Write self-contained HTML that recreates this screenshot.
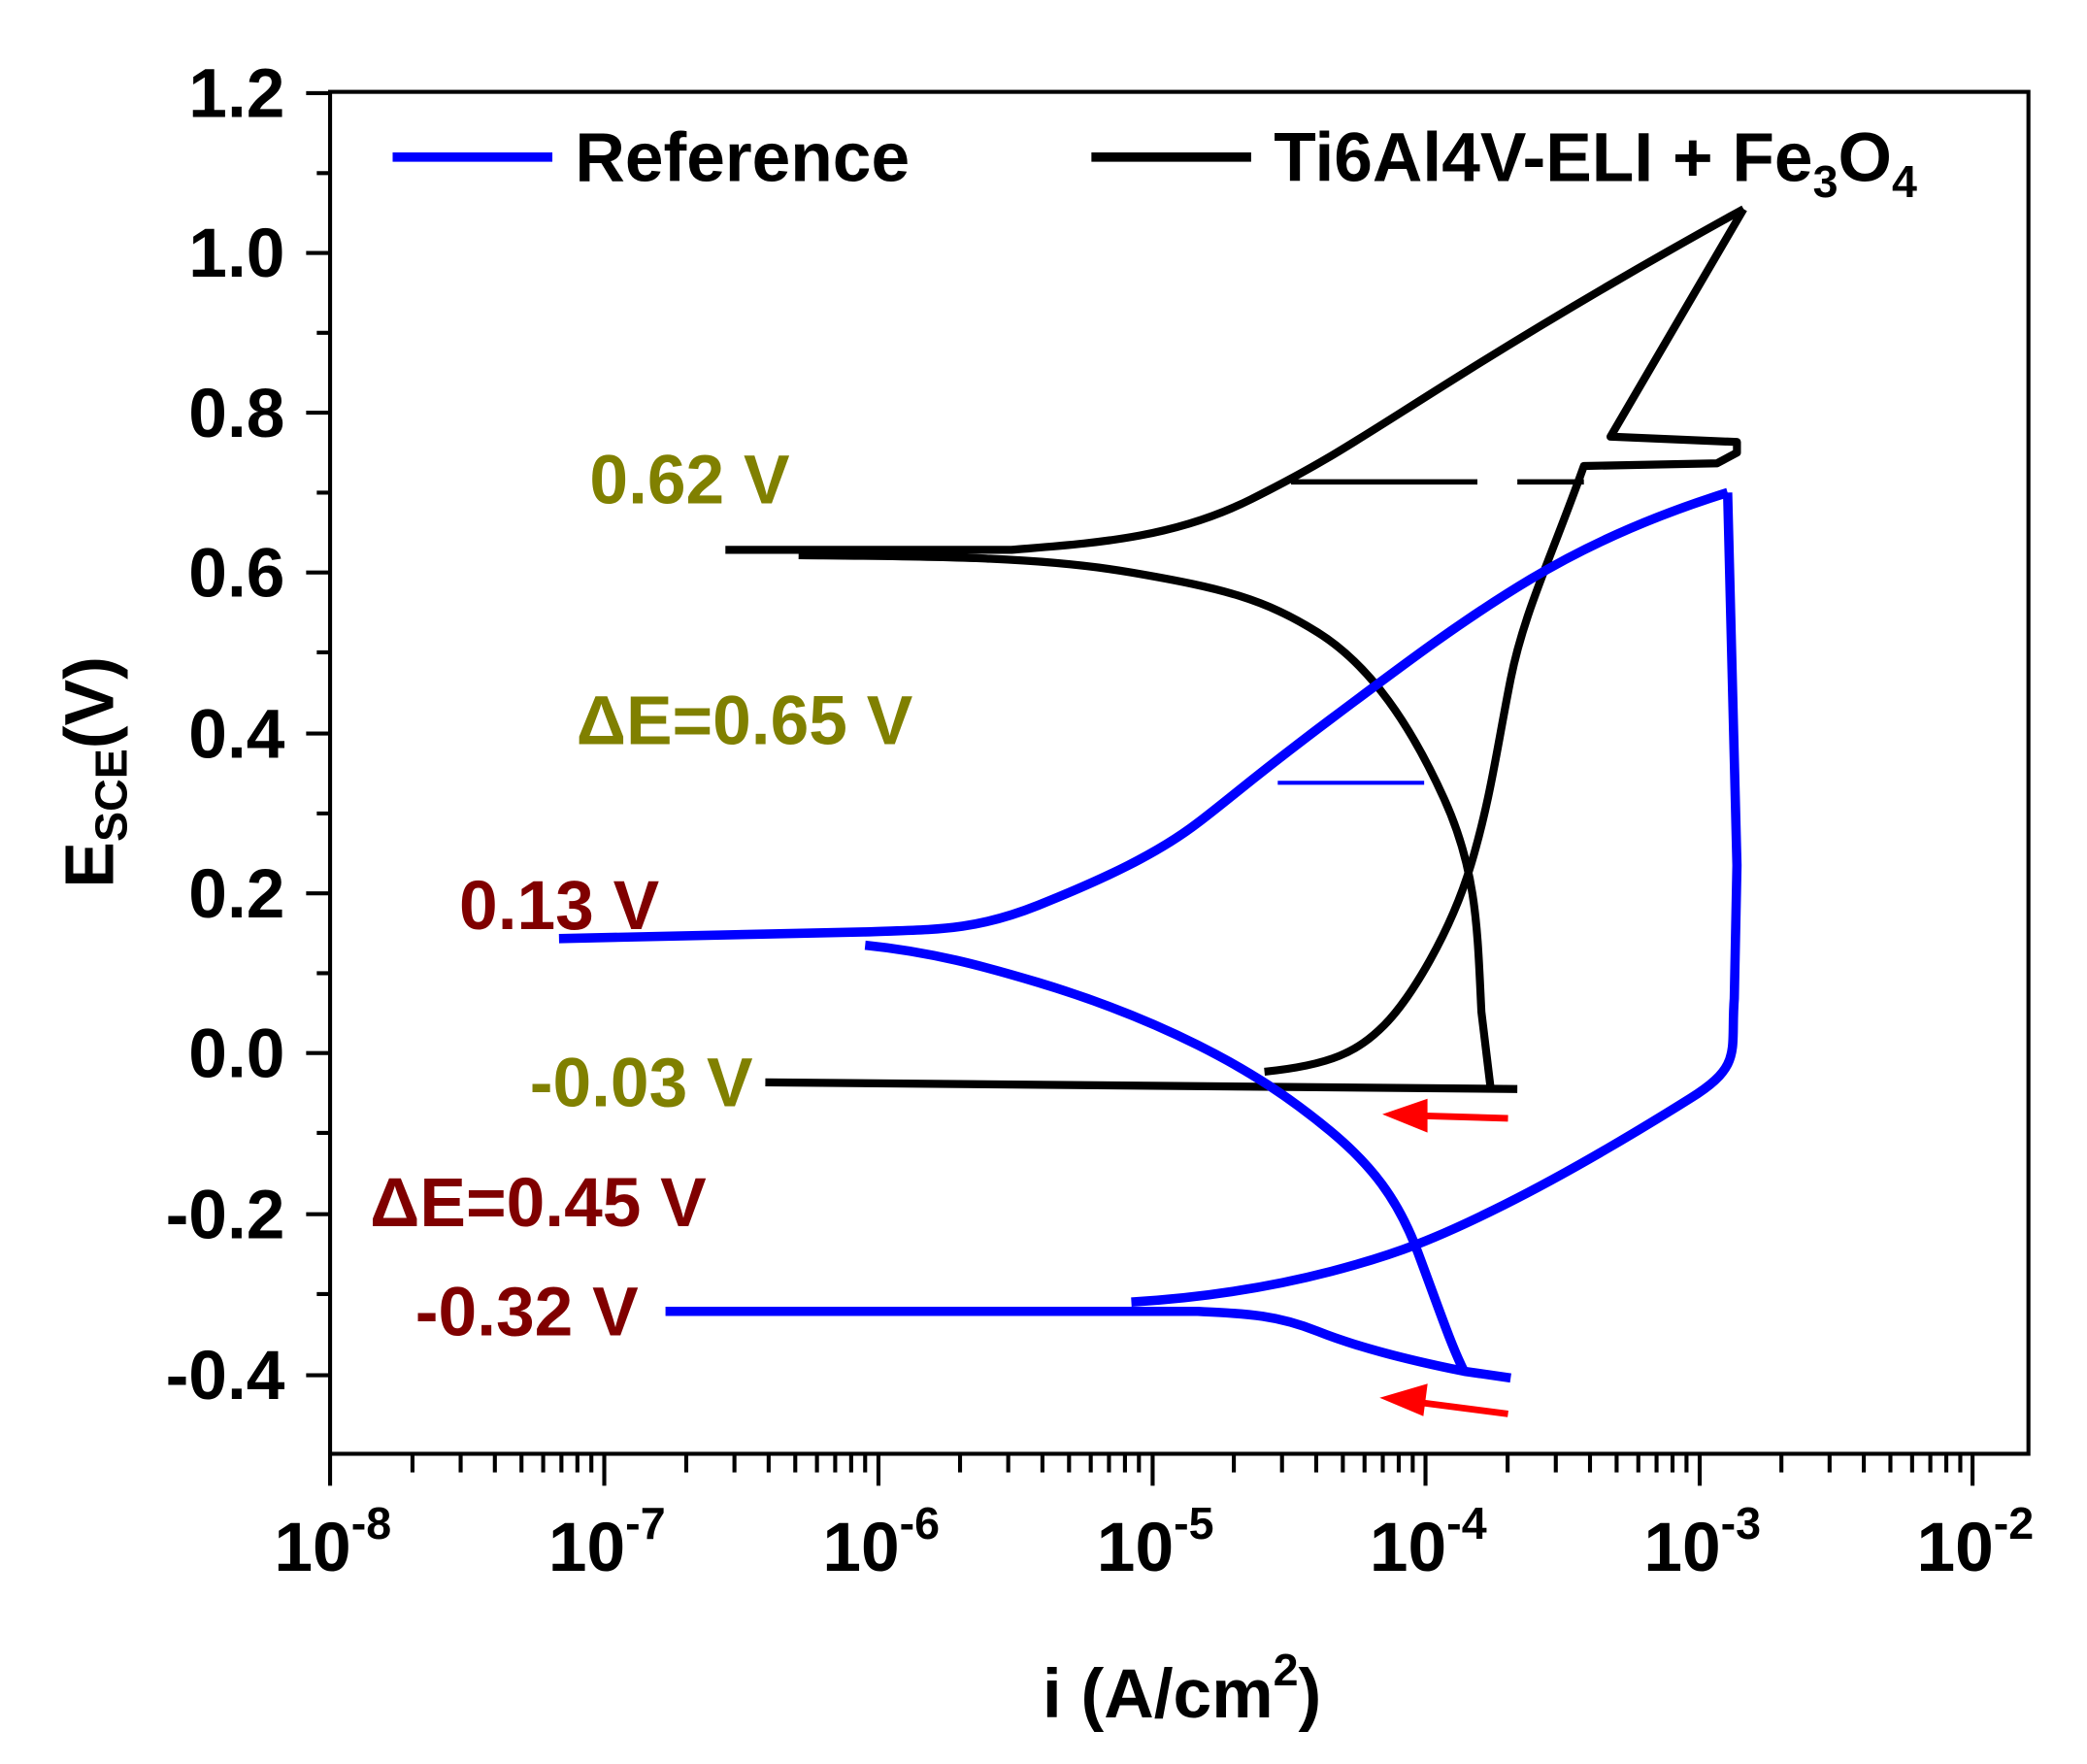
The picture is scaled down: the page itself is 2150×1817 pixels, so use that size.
<!DOCTYPE html>
<html><head><meta charset="utf-8"><style>html,body{margin:0;padding:0;background:#fff}svg{display:block}</style></head><body>
<svg width="2150" height="1817" viewBox="0 0 1568 1325" preserveAspectRatio="none" xmlns="http://www.w3.org/2000/svg" font-family="Liberation Sans, Arial, sans-serif" font-weight="bold">
<rect width="1568" height="1325" fill="#fff"/>
<g stroke="#000" stroke-width="3" fill="none">
<rect x="248" y="69" width="1276" height="1023"/>
<path d="M230 70H248M230 190H248M230 310H248M230 430H248M230 551H248M230 671H248M230 791H248M230 912H248M230 1033H248"/>
<path d="M238 130H248M238 250H248M238 370H248M238 490H248M238 611H248M238 731H248M238 851H248M238 972H248"/>
<path d="M248 1092V1116M454 1092V1116M660 1092V1116M866 1092V1116M1071 1092V1116M1277 1092V1116M1482 1092V1116"/>
</g>
<g stroke="#000" stroke-width="3" id="minor"></g>
<script>
var g=document.getElementById('minor'),s='';
for(var d=0;d<6;d++){var x0=248+d*205.7;for(var k=2;k<10;k++){var x=x0+Math.log10(k)*205.7;s+='M'+x.toFixed(1)+' 1092V1106';}}
var p=document.createElementNS('http://www.w3.org/2000/svg','path');p.setAttribute('d',s);p.setAttribute('fill','none');g.appendChild(p);
</script>
<g font-size="52" text-anchor="end" fill="#000">
<text x="214" y="88">1.2</text><text x="214" y="208">1.0</text><text x="214" y="328">0.8</text><text x="214" y="448">0.6</text><text x="214" y="569">0.4</text><text x="214" y="689">0.2</text><text x="214" y="809">0.0</text><text x="214" y="930">-0.2</text><text x="214" y="1051">-0.4</text>
</g>
<g font-size="52" fill="#000" text-anchor="middle">
<text x="250" y="1180">10<tspan font-size="34" dy="-24">-8</tspan></text>
<text x="456" y="1180">10<tspan font-size="34" dy="-24">-7</tspan></text>
<text x="662" y="1180">10<tspan font-size="34" dy="-24">-6</tspan></text>
<text x="868" y="1180">10<tspan font-size="34" dy="-24">-5</tspan></text>
<text x="1073" y="1180">10<tspan font-size="34" dy="-24">-4</tspan></text>
<text x="1279" y="1180">10<tspan font-size="34" dy="-24">-3</tspan></text>
<text x="1484" y="1180">10<tspan font-size="34" dy="-24">-2</tspan></text>
<text x="888" y="1290">i (A/cm<tspan font-size="34" dy="-24">2</tspan><tspan dy="24">)</tspan></text>
<text transform="translate(85,580) rotate(-90)">E<tspan font-size="34" dy="10">SCE</tspan><tspan dy="-10">(V)</tspan></text>
</g>
<path d="M295 118H415" stroke="#0000ff" stroke-width="7"/>
<text x="432" y="136" font-size="52">Reference</text>
<path d="M820 118H940" stroke="#000" stroke-width="7"/>
<text x="957" y="136" font-size="52">Ti6Al4V-ELI + Fe<tspan font-size="34" dy="12">3</tspan><tspan dy="-12">O</tspan><tspan font-size="34" dy="12">4</tspan></text>
<g fill="none" stroke="#000" stroke-width="6" stroke-linejoin="round">
<path d="M575 813L1140 818"/>
<path d="M950 805C1000 800 1020 790 1040 770S1090 700 1105 650S1125 560 1135 510S1165 420 1190 350L1290 348L1305 340L1305 332L1210 328L1310 157"/>
<path d="M1310 157C1250 190 1180 230 1100 280S1000 345 940 375S820 408 760 413L545 413"/>
<path d="M600 417C700 418 780 418 850 430S950 450 990 475S1060 545 1085 600S1110 700 1113 760L1120 818"/>
<path d="M970 362H1110M1140 362H1190" stroke-width="4"/>
</g>
<g fill="none" stroke="#0000ff" stroke-width="7" stroke-linejoin="round">
<path d="M1135 1035L1100 1030C1060 1022 1020 1012 990 1000S940 987 900 985L500 985"/>
<path d="M850 978C900 975 950 968 1000 955S1080 930 1130 905S1230 850 1270 825S1300 790 1303 750L1305 650L1298 370"/>
<path d="M1298 370C1250 385 1200 405 1150 435S1060 495 1000 540S930 595 900 618S830 660 780 680S700 698 650 700L420 705"/>
<path d="M650 710C700 715 740 726 780 738S860 765 900 785S970 825 1000 850S1050 900 1065 940S1090 1010 1100 1030"/>
<path d="M960 588H1070" stroke-width="3"/>
</g>
<g fill="#ff0000" stroke="#ff0000" stroke-width="5">
<path d="M1133 840L1065 838"/><path d="M1040 837L1072 826L1072 850Z" stroke-width="1"/>
<path d="M1133 1062L1063 1053"/><path d="M1038 1050L1072 1040L1069 1063Z" stroke-width="1"/>
</g>
<g font-size="52">
<text x="443" y="378" fill="#808000">0.62 V</text>
<text x="433" y="559" fill="#808000">ΔE=0.65 V</text>
<text x="345" y="698" fill="#800000">0.13 V</text>
<text x="398" y="831" fill="#808000">-0.03 V</text>
<text x="278" y="921" fill="#800000">ΔE=0.45 V</text>
<text x="312" y="1003" fill="#800000">-0.32 V</text>
</g>
</svg>
</body></html>
